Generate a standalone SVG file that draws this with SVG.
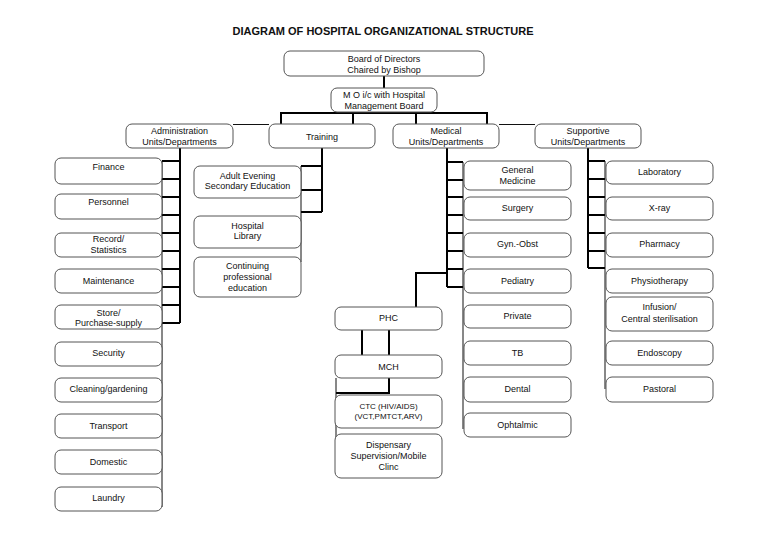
<svg xmlns="http://www.w3.org/2000/svg" width="768" height="543" viewBox="0 0 768 543">
<style>
.b{fill:#fff;stroke:#555;stroke-width:1}
.t{font-family:"Liberation Sans",Arial,sans-serif;font-size:9px;fill:#111;text-anchor:middle}
.s{font-size:8px}
.h{font-family:"Liberation Sans",Arial,sans-serif;font-size:11px;font-weight:bold;fill:#111;text-anchor:middle}
.k{fill:none;stroke:#000;stroke-width:2}
.n{fill:none;stroke:#111;stroke-width:1}
</style>
<rect width="768" height="543" fill="#fff"/>
<text class="h" x="383" y="35">DIAGRAM OF HOSPITAL ORGANIZATIONAL STRUCTURE</text>
<g id="connectors">
<path class="k" d="M384,76V88"/>
<path class="k" d="M281,124V113H487V124M353,113V124M416,113V124"/>
<path class="n" d="M233,124.5H269M499,124.5H535"/>
<path class="k" d="M180,148V323M162,161H180M162,179H180M162,197H180M162,215H180M162,233H180M162,251H180M162,269H180M162,287H180M162,305H180M162,323H180"/>
<path class="n" d="M162,161V507"/>
<path class="k" d="M322,148V212M301,166H322M301,190H322M301,212H322"/>
<path class="n" d="M301,166V262"/>
<path class="k" d="M447,148V287M447,162H463M447,180H463M447,197H463M447,215H463M447,233H463M447,251H463M447,269H463M447,287H463"/>
<path class="n" d="M463,162V429"/>
<path class="k" d="M588,148V268M588,161H605M588,179H605M588,197H605M588,215H605M588,233H605M588,251H605M588,268H605"/>
<path class="n" d="M605,161V389"/>
<path class="k" d="M447,273H416V307"/>
<path class="k" d="M362,330V355M389,330V355"/>
<path class="k" d="M389,378V393H336"/>
<path class="n" d="M336,378V474"/>
</g>
<g id="board"><rect class="b" x="284" y="51" width="200" height="25" rx="6"/><text class="t" x="384" y="62">Board of Directors</text><text class="t" x="384" y="73">Chaired by Bishop</text></g>
<g id="mo"><rect class="b" x="331" y="88" width="106" height="24" rx="6"/><text class="t" x="384" y="98">M O i/c with Hospital</text><text class="t" x="384" y="109">Management Board</text></g>
<g id="admin"><rect class="b" x="126" y="124" width="107" height="24" rx="6"/><text class="t" x="179.5" y="134">Administration</text><text class="t" x="179.5" y="145">Units/Departments</text></g>
<g id="training"><rect class="b" x="269" y="124" width="106" height="24" rx="6"/><text class="t" x="322" y="140">Training</text></g>
<g id="medical"><rect class="b" x="393" y="124" width="106" height="24" rx="6"/><text class="t" x="446" y="134">Medical</text><text class="t" x="446" y="145">Units/Departments</text></g>
<g id="supportive"><rect class="b" x="535" y="124" width="106" height="24" rx="6"/><text class="t" x="588" y="134">Supportive</text><text class="t" x="588" y="145">Units/Departments</text></g>
<g id="finance"><rect class="b" x="55" y="158" width="107" height="26" rx="6"/><text class="t" x="108.5" y="170">Finance</text></g>
<g id="personnel"><rect class="b" x="55" y="194" width="107" height="25" rx="6"/><text class="t" x="108.5" y="205">Personnel</text></g>
<g id="record"><rect class="b" x="55" y="233" width="107" height="24" rx="6"/><text class="t" x="108.5" y="242">Record/</text><text class="t" x="108.5" y="253">Statistics</text></g>
<g id="maintenance"><rect class="b" x="55" y="269" width="107" height="24" rx="6"/><text class="t" x="108.5" y="284">Maintenance</text></g>
<g id="store"><rect class="b" x="55" y="305" width="107" height="24" rx="6"/><text class="t" x="108.5" y="316">Store/</text><text class="t" x="108.5" y="326">Purchase-supply</text></g>
<g id="security"><rect class="b" x="55" y="342" width="107" height="24" rx="6"/><text class="t" x="108.5" y="356">Security</text></g>
<g id="cleaning"><rect class="b" x="55" y="378" width="107" height="24" rx="6"/><text class="t" x="108.5" y="392">Cleaning/gardening</text></g>
<g id="transport"><rect class="b" x="55" y="414" width="107" height="24" rx="6"/><text class="t" x="108.5" y="429">Transport</text></g>
<g id="domestic"><rect class="b" x="55" y="450" width="107" height="24" rx="6"/><text class="t" x="108.5" y="465">Domestic</text></g>
<g id="laundry"><rect class="b" x="55" y="487" width="107" height="24" rx="6"/><text class="t" x="108.5" y="501">Laundry</text></g>
<g id="adult"><rect class="b" x="194" y="166" width="107" height="32" rx="6"/><text class="t" x="247.5" y="179">Adult Evening</text><text class="t" x="247.5" y="189">Secondary Education</text></g>
<g id="library"><rect class="b" x="194" y="216" width="107" height="32" rx="6"/><text class="t" x="247.5" y="229">Hospital</text><text class="t" x="247.5" y="239">Library</text></g>
<g id="continuing"><rect class="b" x="194" y="257" width="107" height="40" rx="6"/><text class="t" x="247.5" y="269">Continuing</text><text class="t" x="247.5" y="280">professional</text><text class="t" x="247.5" y="291">education</text></g>
<g id="genmed"><rect class="b" x="464" y="161" width="107" height="29" rx="6"/><text class="t" x="517.5" y="173">General</text><text class="t" x="517.5" y="184">Medicine</text></g>
<g id="surgery"><rect class="b" x="464" y="197" width="107" height="23" rx="6"/><text class="t" x="517.5" y="211">Surgery</text></g>
<g id="gyn"><rect class="b" x="464" y="233" width="107" height="24" rx="6"/><text class="t" x="517.5" y="247">Gyn.-Obst</text></g>
<g id="pediatry"><rect class="b" x="464" y="269" width="107" height="24" rx="6"/><text class="t" x="517.5" y="284">Pediatry</text></g>
<g id="private"><rect class="b" x="464" y="305" width="107" height="23" rx="6"/><text class="t" x="517.5" y="319">Private</text></g>
<g id="tb"><rect class="b" x="464" y="341" width="107" height="24" rx="6"/><text class="t" x="517.5" y="356">TB</text></g>
<g id="dental"><rect class="b" x="464" y="377" width="107" height="25" rx="6"/><text class="t" x="517.5" y="392">Dental</text></g>
<g id="ophtalmic"><rect class="b" x="464" y="413" width="107" height="24" rx="6"/><text class="t" x="517.5" y="428">Ophtalmic</text></g>
<g id="phc"><rect class="b" x="335" y="307" width="107" height="23" rx="6"/><text class="t" x="388.5" y="321">PHC</text></g>
<g id="mch"><rect class="b" x="335" y="355" width="107" height="23" rx="6"/><text class="t" x="388.5" y="370">MCH</text></g>
<g id="ctc"><rect class="b" x="335" y="395" width="107" height="33" rx="6"/><text class="t s" x="388.5" y="409">CTC (HIV/AIDS)</text><text class="t s" x="388.5" y="419">(VCT,PMTCT,ARV)</text></g>
<g id="dispensary"><rect class="b" x="335" y="434" width="107" height="44" rx="6"/><text class="t" x="388.5" y="448">Dispensary</text><text class="t" x="388.5" y="459">Supervision/Mobile</text><text class="t" x="388.5" y="470">Clinc</text></g>
<g id="laboratory"><rect class="b" x="606" y="161" width="107" height="23" rx="6"/><text class="t" x="659.5" y="175">Laboratory</text></g>
<g id="xray"><rect class="b" x="606" y="197" width="107" height="23" rx="6"/><text class="t" x="659.5" y="211">X-ray</text></g>
<g id="pharmacy"><rect class="b" x="606" y="233" width="107" height="24" rx="6"/><text class="t" x="659.5" y="247">Pharmacy</text></g>
<g id="physio"><rect class="b" x="606" y="269" width="107" height="24" rx="6"/><text class="t" x="659.5" y="284">Physiotherapy</text></g>
<g id="infusion"><rect class="b" x="606" y="297" width="107" height="34" rx="6"/><text class="t" x="659.5" y="310">Infusion/</text><text class="t" x="659.5" y="322">Central sterilisation</text></g>
<g id="endoscopy"><rect class="b" x="606" y="341" width="107" height="24" rx="6"/><text class="t" x="659.5" y="356">Endoscopy</text></g>
<g id="pastoral"><rect class="b" x="606" y="377" width="107" height="25" rx="6"/><text class="t" x="659.5" y="392">Pastoral</text></g>
</svg>
